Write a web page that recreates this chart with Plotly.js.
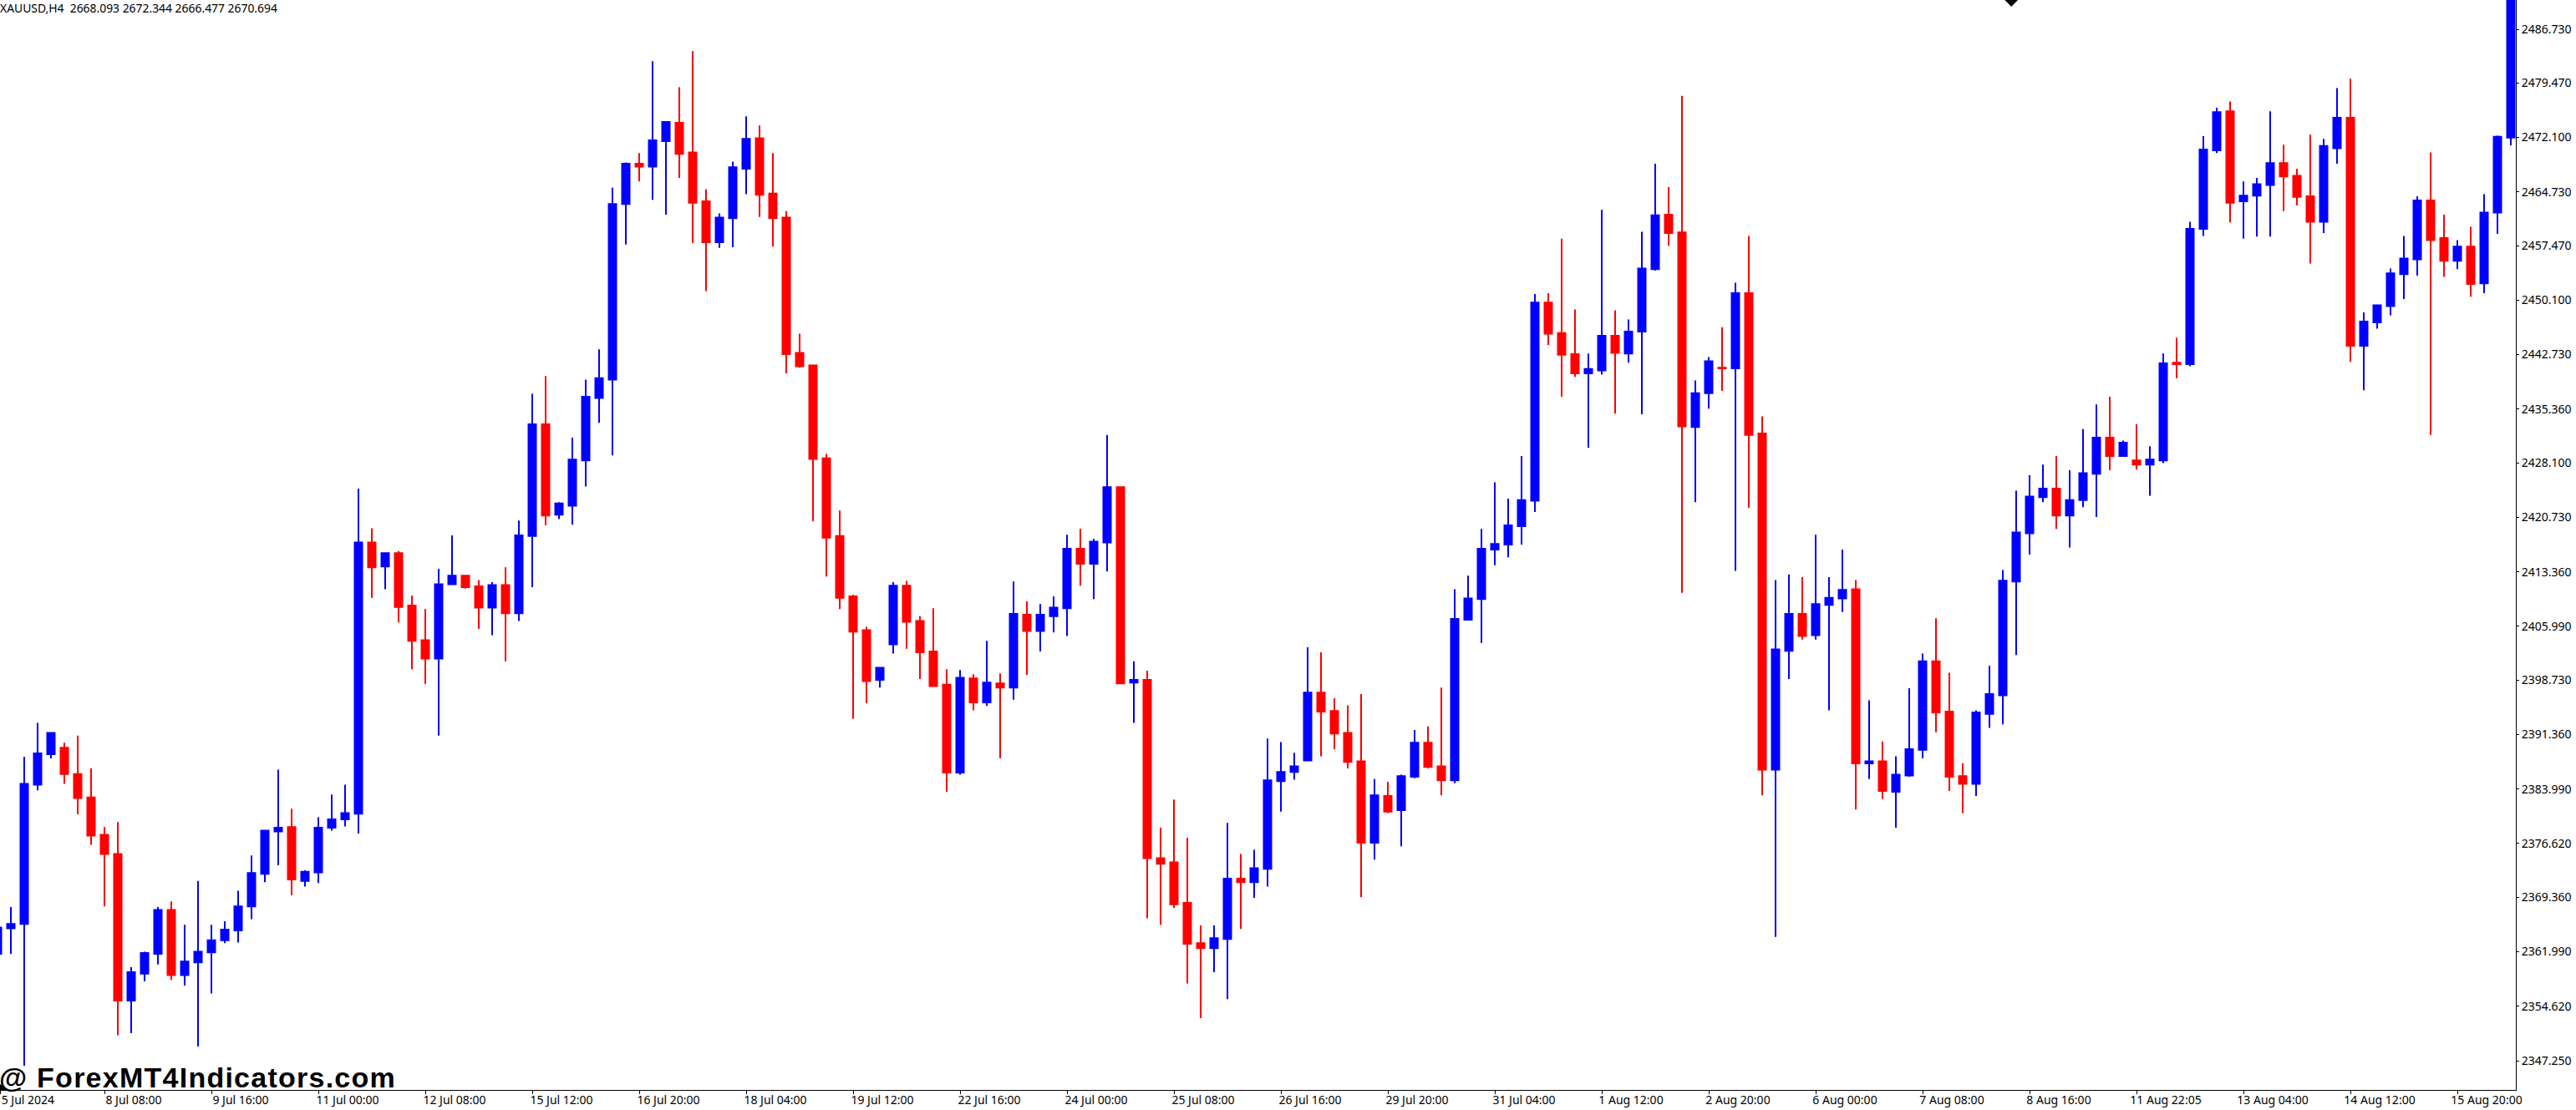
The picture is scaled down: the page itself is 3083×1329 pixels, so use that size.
<!DOCTYPE html>
<html>
<head>
<meta charset="utf-8">
<script src="https://cdn.plot.ly/plotly-3.0.1.min.js"></script>
<style>html,body{margin:0;padding:0;background:#fff;overflow:hidden}#chart{width:3083px;height:1329px}
.annotation[data-index="1"] text{letter-spacing:1.25px}</style>
</head>
<body>
<div id="chart"></div>
<script>
const candleDirection = ("UUUUUDDDDDUUUDUUUUUUUUDUUUUUDUDDDUUDDUDUUDUUUUUUDUUDDDUUU"+"DDDDDDDDDUUDDDDUDUDUDUUUDUUDUDDDDDUUDUUUUUDDDDUDUUDDUUUUUUUDDDUUDUUUDDUUDUDDUUDUUUDUDUUUDDDUUUUUUDUUUDUDUUDUUUDUUUDDDUUDUUUUUDDUDUUU").split("");
const bodyTop = [
2365.25,2365.73,2384.68,2388.80,2391.58,2389.57,2386.03,2382.86,2377.79,2375.21,
2359.22,2361.81,2367.64,2367.64,2360.66,2362.00,2363.53,2364.97,2368.12,2372.62,
2378.36,2378.75,2378.84,2372.81,2378.75,2379.89,2380.75,2417.33,2417.33,2415.89,
2415.89,2408.80,2404.12,2411.68,2412.83,2412.83,2411.39,2411.58,2411.58,2418.29,
2433.32,2433.32,2422.60,2428.53,2437.05,2439.54,2463.09,2468.54,2468.54,2471.70,
2474.19,2474.09,2470.07,2463.47,2461.27,2468.07,2471.90,2471.99,2464.52,2461.27,
2442.98,2441.26,2428.72,2418.19,2410.05,2405.46,2400.38,2411.49,2411.49,2406.70,
2402.59,2398.09,2399.04,2398.95,2398.38,2398.28,2407.66,2407.56,2407.56,2408.52,
2416.47,2416.47,2417.43,2424.80,2424.80,2398.76,2398.76,2374.63,2374.06,2368.60,
2363.15,2363.82,2371.86,2371.86,2373.29,2385.16,2386.31,2387.07,2397.03,2397.03,
2394.55,2391.58,2387.75,2383.15,2383.05,2385.73,2390.24,2390.24,2387.07,2406.99,
2409.76,2416.47,2417.14,2419.63,2423.07,2449.78,2449.78,2445.66,2442.79,2440.78,
2445.28,2445.28,2445.86,2454.38,2461.56,2461.65,2459.26,2437.53,2441.83,2440.97,
2451.03,2451.03,2432.07,2402.88,2407.66,2407.66,2408.99,2409.86,2410.91,2411.01,
2387.75,2387.75,2385.93,2389.38,2401.25,2401.25,2394.45,2385.73,2394.35,2396.84,
2412.15,2418.67,2423.55,2424.61,2424.61,2423.07,2426.71,2431.50,2431.50,2430.83,
2428.43,2428.53,2441.55,2441.64,2459.74,2470.46,2475.53,2475.63,2464.24,2465.77,
2468.64,2468.64,2466.92,2464.14,2470.94,2474.77,2474.77,2447.20,2449.40,2453.71,
2455.72,2463.57,2463.57,2458.50,2457.35,2457.35,2461.94,2472.18,2494.00];
const bodyBottom = [
2361.71,2365.16,2365.73,2384.58,2388.71,2386.03,2382.77,2377.69,2375.21,2355.39,
2355.39,2359.03,2361.71,2358.84,2358.84,2360.56,2361.90,2363.53,2364.87,2368.12,
2372.53,2378.26,2371.76,2371.57,2372.72,2378.75,2379.89,2380.66,2413.97,2414.07,
2408.61,2404.02,2401.63,2401.63,2411.68,2411.29,2408.52,2408.52,2407.75,2407.75,
2418.20,2420.97,2421.07,2422.31,2428.43,2436.86,2439.34,2463.09,2468.16,2468.16,
2471.61,2469.88,2463.28,2457.92,2457.92,2461.17,2467.87,2464.34,2461.17,2442.79,
2441.16,2428.62,2417.99,2409.86,2405.26,2398.57,2398.76,2403.54,2406.61,2402.49,
2397.90,2386.22,2386.22,2395.69,2395.69,2397.71,2397.71,2405.36,2405.36,2407.37,
2408.43,2414.46,2414.46,2417.33,2398.28,2398.38,2374.63,2373.87,2368.41,2363.05,
2362.48,2362.48,2363.72,2371.38,2371.38,2373.19,2385.06,2386.31,2387.84,2394.45,
2391.49,2387.65,2376.74,2376.74,2380.94,2381.14,2385.64,2386.98,2385.16,2385.16,
2406.89,2409.67,2416.37,2417.04,2419.53,2422.98,2445.57,2442.70,2440.21,2440.21,
2440.59,2442.98,2442.89,2445.86,2454.28,2459.16,2433.03,2432.93,2437.53,2440.88,
2440.88,2431.88,2386.60,2386.60,2402.68,2404.69,2404.79,2408.90,2409.76,2387.46,
2387.46,2383.72,2383.63,2385.83,2389.28,2394.35,2385.64,2384.68,2384.68,2394.16,
2396.65,2412.06,2418.57,2423.46,2420.97,2420.97,2423.07,2426.62,2429.01,2429.01,
2427.86,2427.86,2428.43,2441.45,2441.45,2459.74,2470.36,2463.28,2463.47,2464.24,
2465.67,2466.82,2464.05,2460.69,2460.69,2470.65,2443.94,2443.94,2447.10,2449.30,
2453.61,2455.62,2458.21,2455.43,2455.43,2452.27,2452.37,2461.94,2472.09];
const high = [
2365.25,2368.02,2388.33,2392.92,2391.58,2390.24,2391.20,2386.79,2378.84,2379.51,
2359.89,2362.00,2368.02,2368.79,2365.64,2371.57,2365.64,2366.11,2370.23,2375.01,
2378.36,2386.60,2381.33,2373.00,2380.18,2383.24,2384.58,2424.61,2419.25,2415.98,
2416.18,2410.15,2408.33,2413.78,2418.29,2412.83,2412.25,2411.96,2413.97,2420.30,
2437.43,2439.82,2422.79,2431.50,2439.34,2443.46,2465.29,2468.73,2469.98,2482.42,
2474.29,2478.88,2483.77,2465.10,2461.84,2468.83,2474.96,2473.71,2469.98,2462.13,
2445.57,2441.26,2429.30,2421.64,2410.24,2405.93,2400.48,2411.96,2412.15,2407.37,
2408.43,2400.19,2400.09,2399.52,2404.02,2399.62,2412.06,2409.38,2408.99,2410.05,
2418.38,2419.15,2417.81,2431.88,2424.89,2401.25,2400.00,2378.75,2382.58,2377.41,
2365.54,2365.54,2379.41,2375.21,2375.78,2390.81,2390.33,2388.89,2403.16,2402.49,
2396.26,2395.31,2396.84,2385.35,2384.97,2385.93,2391.96,2392.44,2397.71,2411.01,
2412.83,2419.15,2425.47,2423.27,2429.01,2450.93,2451.03,2458.40,2448.83,2442.89,
2462.32,2448.73,2447.48,2459.35,2468.54,2465.39,2477.73,2439.25,2442.41,2446.43,
2452.46,2458.78,2434.37,2412.25,2413.02,2412.64,2418.38,2412.64,2416.37,2412.25,
2395.98,2390.43,2388.42,2397.62,2402.30,2407.09,2399.71,2387.46,2394.64,2400.67,
2413.59,2424.32,2426.42,2427.86,2429.01,2427.09,2432.65,2436.00,2437.05,2431.12,
2433.32,2430.35,2442.89,2445.00,2460.69,2472.28,2476.11,2476.97,2466.15,2466.63,
2475.63,2471.13,2467.88,2472.47,2471.90,2478.78,2480.03,2448.44,2449.40,2454.38,
2458.78,2464.14,2470.07,2461.65,2458.21,2460.02,2464.43,2472.37,2495.00];
const low = [
2361.71,2361.71,2346.58,2383.82,2388.13,2384.68,2380.56,2376.45,2368.12,2350.70,
2350.98,2357.98,2360.28,2358.17,2357.41,2349.16,2356.34,2363.15,2363.24,2366.40,
2371.38,2373.67,2369.65,2370.80,2371.28,2378.36,2378.94,2377.98,2409.86,2411.01,
2406.51,2400.19,2398.18,2391.20,2411.58,2411.10,2405.65,2404.79,2401.25,2406.70,
2411.29,2419.63,2420.49,2419.73,2424.89,2433.51,2429.10,2457.63,2466.15,2463.66,
2461.65,2466.63,2457.82,2451.32,2457.16,2457.25,2464.43,2461.36,2457.35,2440.21,
2440.97,2420.20,2412.73,2408.33,2393.49,2395.60,2397.71,2402.30,2402.97,2398.86,
2397.80,2383.63,2385.93,2394.64,2395.22,2388.13,2396.08,2399.43,2402.59,2405.17,
2404.69,2411.49,2409.67,2413.40,2398.18,2392.92,2366.50,2365.64,2367.93,2357.69,
2353.00,2359.22,2355.58,2365.06,2369.27,2370.80,2380.94,2385.25,2387.75,2388.42,
2389.38,2386.79,2369.37,2374.44,2380.75,2376.26,2385.45,2386.79,2383.15,2384.78,
2406.89,2403.74,2414.26,2415.32,2417.04,2421.44,2444.04,2437.05,2439.73,2430.16,
2440.02,2434.75,2441.64,2434.66,2454.09,2457.44,2410.53,2422.79,2435.42,2437.82,
2413.50,2422.02,2383.15,2364.00,2398.86,2404.21,2404.21,2394.64,2407.94,2381.23,
2385.35,2382.67,2378.75,2385.64,2388.13,2391.67,2383.72,2380.75,2383.05,2392.25,
2392.73,2402.11,2415.70,2422.79,2419.15,2416.66,2422.11,2420.78,2427.09,2429.01,
2427.19,2423.65,2428.05,2439.54,2441.16,2458.78,2469.98,2460.60,2458.40,2458.69,
2458.69,2462.13,2462.90,2455.05,2459.16,2468.54,2441.74,2437.91,2446.24,2448.06,
2450.26,2453.42,2431.88,2453.23,2454.28,2450.55,2451.03,2459.07,2471.04];
const timeLabels = ["5 Jul 2024\u00a0","8 Jul 08:00","9 Jul 16:00","11 Jul 00:00","12 Jul 08:00","15 Jul 12:00","16 Jul 20:00","18 Jul 04:00","19 Jul 12:00","22 Jul 16:00","24 Jul 00:00","25 Jul 08:00","26 Jul 16:00","29 Jul 20:00","31 Jul 04:00","1 Aug 12:00","2 Aug 20:00","6 Aug 00:00","7 Aug 08:00","8 Aug 16:00","11 Aug 22:05","13 Aug 04:00","14 Aug 12:00","15 Aug 20:00"];
const timeTickBars = [0.2,8,16,24,32,40,48,56,64,72,80,88,96,104,112,120,128,136,144,152,160,168,176,184];
const priceLabels = ["2486.730","2479.470","2472.100","2464.730","2457.470","2450.100","2442.730","2435.360","2428.100","2420.730","2413.360","2405.990","2398.730","2391.360","2383.990","2376.620","2369.360","2361.990","2354.620","2347.250"];
const headerText = "XAUUSD,H4\u00a0\u00a02668.093 2672.344 2666.477 2670.694";
const watermarkText = "@ ForexMT4Indicators.com";

const barIndex = bodyTop.map((_, i) => i);
const open = barIndex.map(i => candleDirection[i] === "U" ? bodyBottom[i] : bodyTop[i]);
const close = barIndex.map(i => candleDirection[i] === "U" ? bodyTop[i] : bodyBottom[i]);
const font = "Noto Sans, Open Sans, sans-serif";

const trace = {
  type: "candlestick", x: barIndex, open, high, low, close,
  increasing: {line: {color: "#0000ff", width: 2}, fillcolor: "#0000ff"},
  decreasing: {line: {color: "#ff0000", width: 2}, fillcolor: "#ff0000"},
  whiskerwidth: 0, hoverinfo: "skip", showlegend: false
};

const layout = {
  width: 3083, height: 1329,
  margin: {l: 0, r: 72, t: 0, b: 24, pad: 0},
  paper_bgcolor: "#ffffff", plot_bgcolor: "#ffffff",
  showlegend: false, boxgap: 0.4375, boxgroupgap: 0,
  xaxis: {
    type: "linear", range: [0.1875, 188.375], showgrid: false, zeroline: false,
    rangeslider: {visible: false}, fixedrange: true,
    tickmode: "array", tickvals: timeTickBars, ticktext: timeLabels,
    ticks: "outside", ticklen: 4, tickcolor: "#000", tickwidth: 1,
    ticklabelshift: 35, ticklabelstandoff: -5, ticklabeloverflow: "allow",
    showline: true, linecolor: "#000", linewidth: 1,
    tickfont: {family: font, size: 14, color: "#000"}, automargin: false
  },
  yaxis: {
    type: "linear", side: "right", range: [2343.297, 2490.683], showgrid: false, zeroline: false,
    fixedrange: true, tickmode: "array", tickvals: priceLabels.map(Number), ticktext: priceLabels,
    ticks: "outside", ticklen: 3, tickcolor: "#000", tickwidth: 1,
    showline: true, linecolor: "#000", linewidth: 1,
    tickfont: {family: font, size: 14, color: "#000"}, automargin: false
  },
  annotations: [
    {text: headerText, xref: "paper", yref: "paper", x: 0, y: 1, xanchor: "left", yanchor: "top",
     showarrow: false, font: {family: font, size: 13.9, color: "#000"}, xshift: -2, yshift: 2},
    {text: "<b>" + watermarkText + "</b>", xref: "paper", yref: "paper", x: 0, y: 0, xanchor: "left", yanchor: "bottom",
     showarrow: false, font: {family: "Liberation Sans, Arial, sans-serif", size: 34, color: "#000"}, xshift: 12, yshift: -6}
  ],
  shapes: [
    {type: "path", xref: "paper", yref: "paper", fillcolor: "#000", line: {width: 0}, layer: "above",
     path: "M 0.79684 1 L 0.80206 1 L 0.79947 0.99387 Z"},
    {type: "path", xref: "paper", yref: "paper", fillcolor: "#000", line: {width: 0}, layer: "above",
     path: "M 0 0 L 0.0033 0 L 0 0.0054 Z"}
  ]
};

Plotly.newPlot("chart", [trace], layout, {staticPlot: true, displayModeBar: false});
</script>
</body>
</html>
